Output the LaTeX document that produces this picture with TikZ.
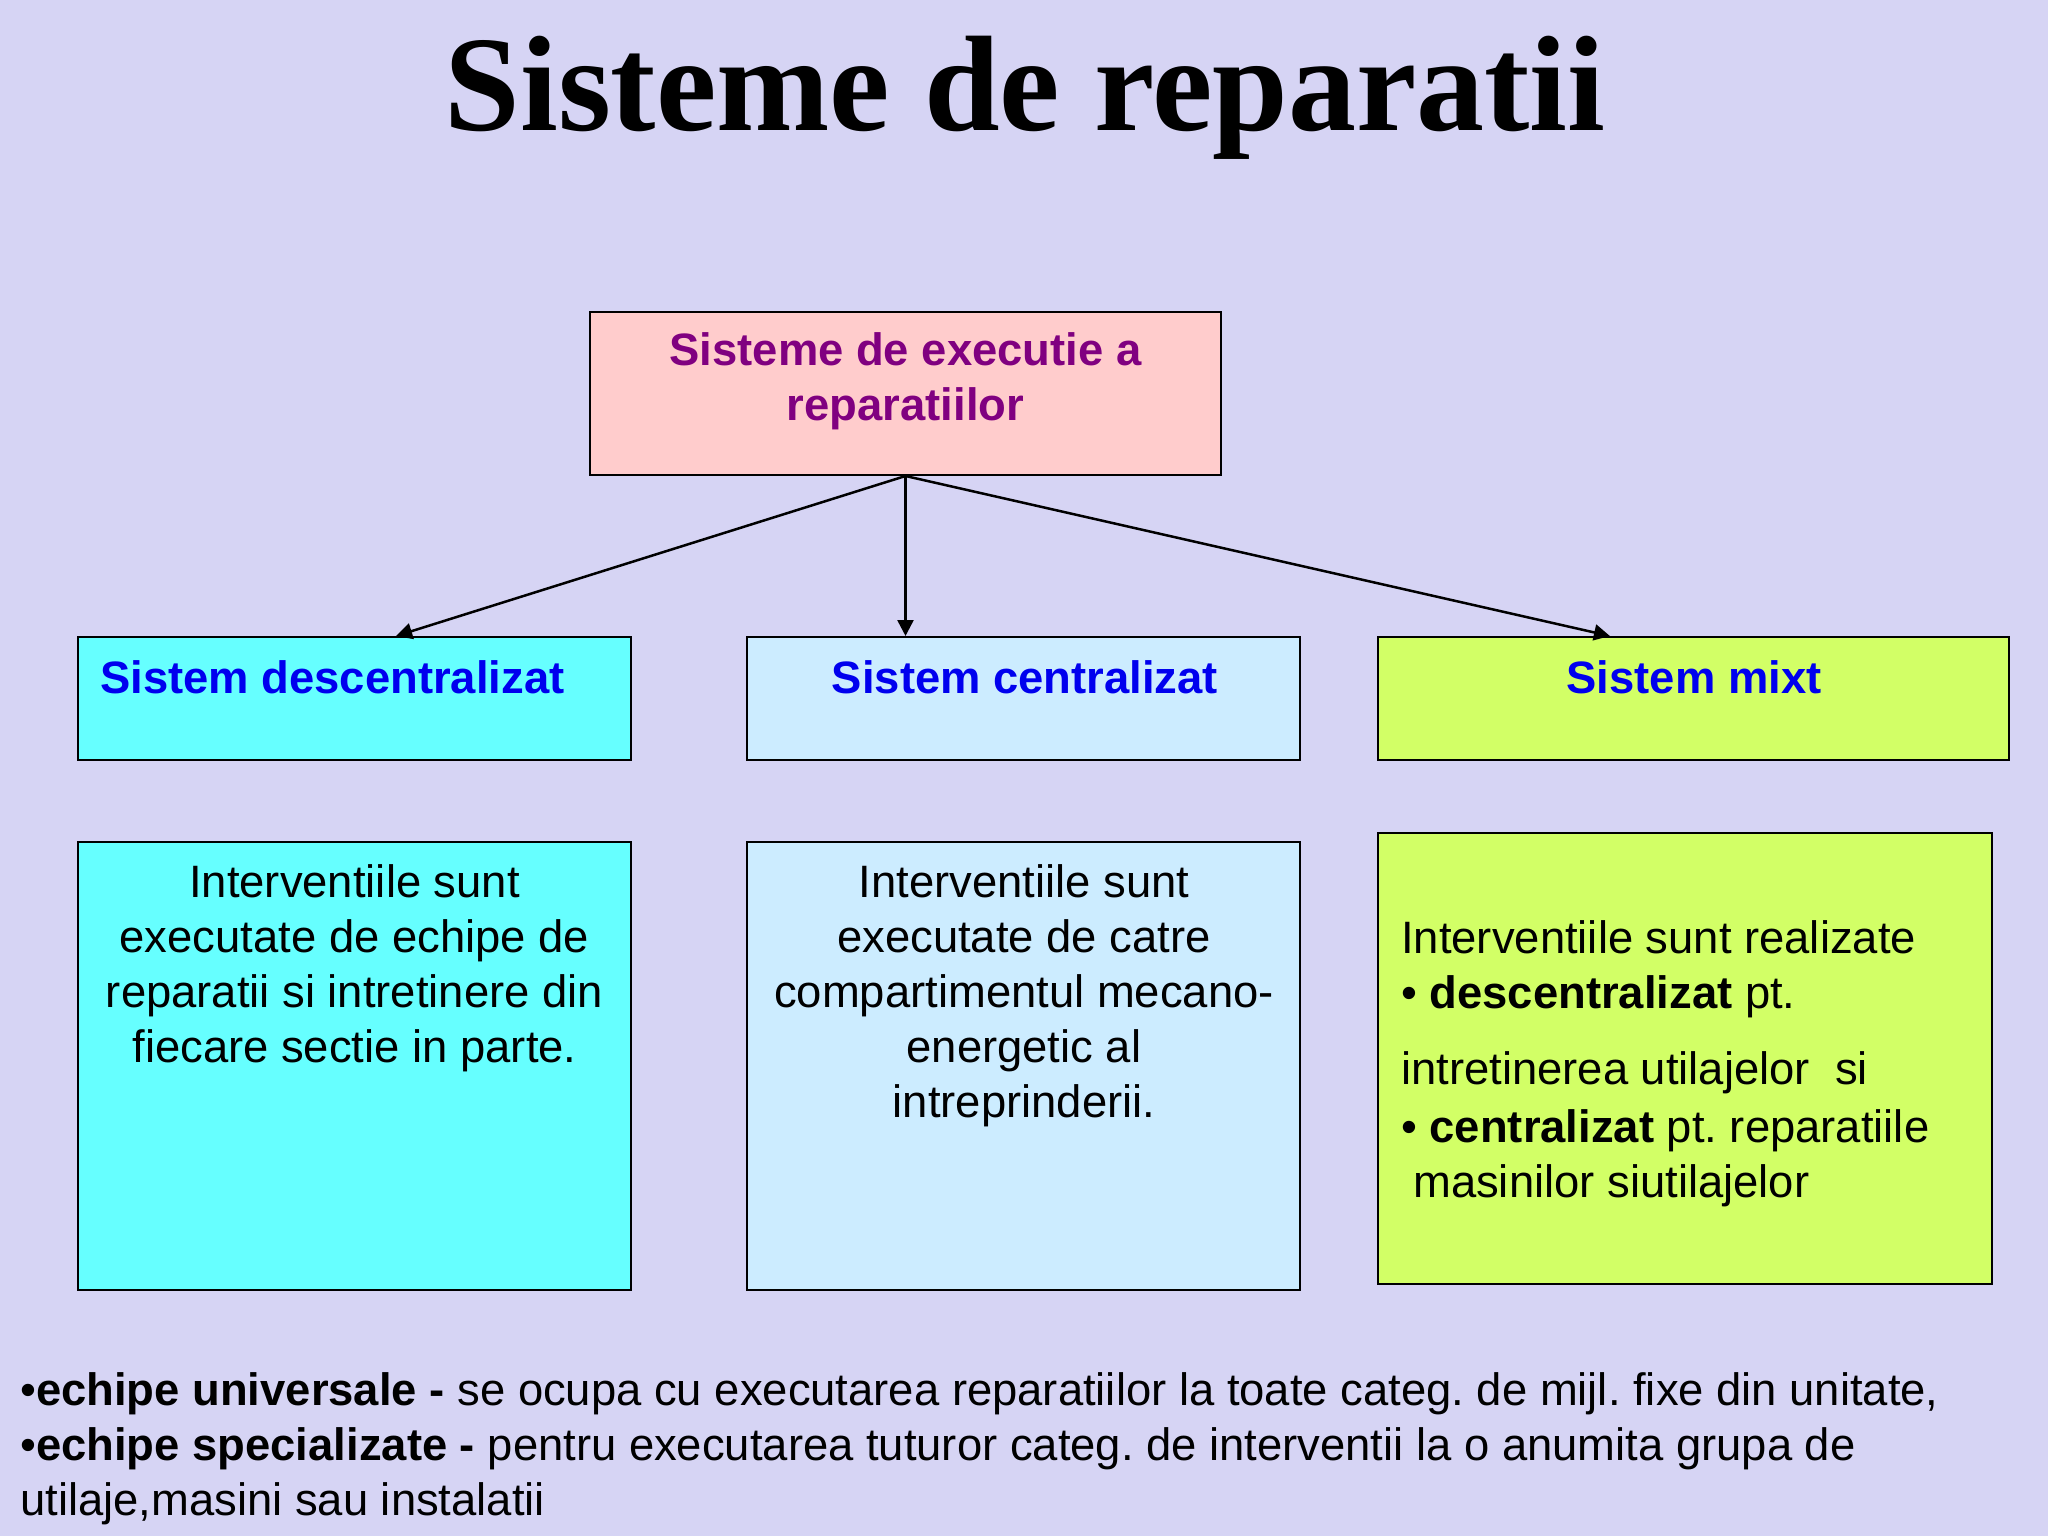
\documentclass[tikz,border=0pt]{standalone}
\usepackage{fontspec}
\setmainfont{Liberation Sans}
\newfontfamily\titlefont{Liberation Serif}
\usetikzlibrary{calc,arrows.meta}
\definecolor{lavender}{HTML}{D6D4F4}
\definecolor{rose}{HTML}{FFCCCC}
\definecolor{aqua}{HTML}{66FFFF}
\definecolor{pale}{HTML}{CCECFF}
\definecolor{lime}{HTML}{D2FF66}
\definecolor{plum}{HTML}{800080}
\definecolor{ink}{HTML}{0000EE}
\newcommand{\bodyfont}{\fontsize{45.4}{55}\selectfont\frenchspacing}

\begin{document}
\begin{tikzpicture}[x=1pt,y=-1pt,
  box/.style={draw,line width=2pt,inner sep=0pt},
  txt/.style={inner sep=0pt,font=\bodyfont,align=center,anchor=base},
  arr/.style={line width=2.5pt,-{Triangle[length=16pt,width=16pt]}}]
\fill[lavender] (0,0) rectangle (2048,1536);
\useasboundingbox (0,0) rectangle (2048,1536);
\node[font=\titlefont\fontsize{136}{150}\selectfont\bfseries,anchor=base,inner sep=0pt] (title) at (1025,131) {Sisteme de reparatii};
\node[box,fill=rose,minimum width=631pt,minimum height=163pt] (top) at (905.5,393.5) {};
\node[box,fill=aqua,minimum width=553pt,minimum height=123pt] (desc) at (354.5,698.5) {};
\node[box,fill=pale,minimum width=553pt,minimum height=123pt] (cent) at (1023.5,698.5) {};
\node[box,fill=lime,minimum width=631pt,minimum height=123pt] (mixt) at (1693.5,698.5) {};
\node[box,fill=aqua,minimum width=553pt,minimum height=448pt] (descT) at (354.5,1066) {};
\node[box,fill=pale,minimum width=553pt,minimum height=448pt] (centT) at (1023.5,1066) {};
\node[box,fill=lime,minimum width=614pt,minimum height=451pt] (mixtT) at (1685,1058.5) {};
\draw[arr] (top.south) -- ($(desc.north west)!0.575!(desc.north east)$);
\draw[arr] (top.south) -- (top.south |- cent.north);
\draw[arr] (top.south) -- ($(mixt.north west)!0.368!(mixt.north east)$);
\node[txt,text=plum,font=\bodyfont\bfseries] (topL) at (905.5,420) {Sisteme de executie a\\reparatiilor};
\node[txt,anchor=base west,text=ink,font=\bodyfont\bfseries] (descL) at (100,693) {Sistem descentralizat};
\node[txt,text=ink,font=\bodyfont\bfseries] (centL) at (1025,693) {Sistem centralizat};
\node[txt,text=ink,font=\bodyfont\bfseries] (mixtL) at (1694,693) {Sistem mixt};
\node[txt] (descB) at (354.5,1062) {Interventiile sunt\\executate de echipe de\\reparatii si intretinere din\\fiecare sectie in parte.};
\node[txt] (centB) at (1024,1117) {Interventiile sunt\\executate de catre\\compartimentul mecano-\\energetic al\\intreprinderii.};
\node[txt,anchor=base west,align=left] (mixtB) at (1401,1197) {Interventiile sunt realizate\\• \textbf{descentralizat} pt.\\[21pt]intretinerea utilajelor~ si\\[3pt]• \textbf{centralizat} pt. reparatiile\\\hspace*{12pt}masinilor siutilajelor};
\node[txt,anchor=base west,align=left] (note) at (20,1515) {•\textbf{echipe universale -} se ocupa cu executarea reparatiilor la toate categ. de mijl. fixe din unitate,\\•\textbf{echipe specializate -} pentru executarea tuturor categ. de interventii la o anumita grupa de\\utilaje,masini sau instalatii};
\end{tikzpicture}
\end{document}
